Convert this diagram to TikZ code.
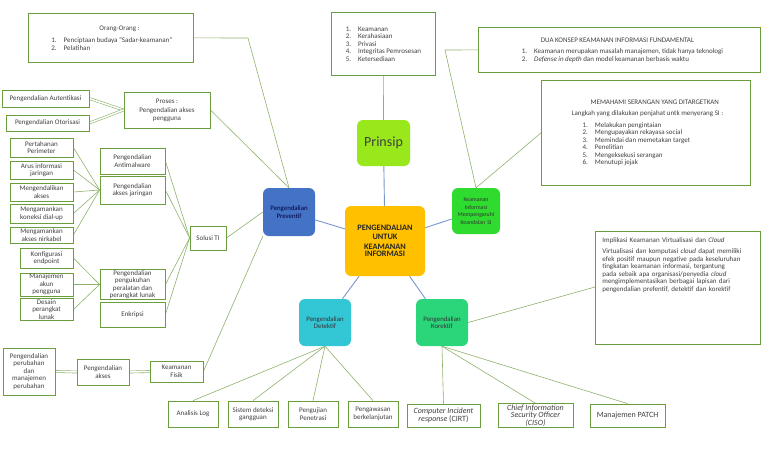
\documentclass[tikz,border=0pt]{standalone}
\usepackage{fontspec}
\setmainfont{Carlito}
\usetikzlibrary{backgrounds}
\definecolor{prevc}{HTML}{4472C4}
\definecolor{cenc}{HTML}{FFC000}
\definecolor{princ}{HTML}{99E81C}
\definecolor{kinfc}{HTML}{2EDB2E}
\definecolor{detc}{HTML}{33C6D4}
\definecolor{korc}{HTML}{2BD67B}
\definecolor{linec}{HTML}{7A96CF}
\definecolor{gline}{HTML}{8DB26A}
\definecolor{gbox}{HTML}{6A9E3C}
\begin{document}
\hyphenpenalty=10000 \exhyphenpenalty=10000 \tolerance=9999 \emergencystretch=20pt
\begin{tikzpicture}[x=1pt,y=-1pt,
 bx/.style={draw=gbox,line width=0.8pt,fill=white,align=center,inner sep=1pt,font=\fontsize{7}{7.5}\selectfont,text=black!75},
 hub/.style={rounded corners=6pt,align=center,font=\fontsize{6.8}{7.5}\selectfont,inner sep=1pt},
 gl/.style={draw=gline,line width=0.6pt},
 bl/.style={draw=linec,line width=0.9pt}]
\useasboundingbox (0,0) rectangle (768,466);
\def\B#1#2#3#4#5#6{\node[bx,minimum width={#4-#2},minimum height={#5-#3}] (#1) at ({(#2+#4)/2},{(#3+#5)/2}) {#6};}
\def\H#1#2#3#4#5#6#7{\node[hub,fill=#6,minimum width={#4-#2},minimum height={#5-#3},text width={#4-#2-4}] (#1) at ({(#2+#4)/2},{(#3+#5)/2}) {#7};}
% hubs
\H{prev}{263}{188}{315}{236}{prevc}{\color{blue!25!black}Pengendalian Preventif}
\H{cen}{345}{206}{425}{276}{cenc}{\fontsize{8.3}{9.5}\selectfont\bfseries\color{black!85}PENGENDALIAN\\UNTUK\\KEAMANAN\\INFORMASI}
\H{prin}{357}{120}{410}{166}{princ}{\fontsize{14}{15}\selectfont\color{black!75}Prinsip}
\H{kinf}{452}{188}{500}{234}{kinfc}{\fontsize{5.8}{6.3}\selectfont\color{black!80}Keamanan Informasi Mempengaruhi Keandalan SI}
\H{det}{299}{299}{351}{346}{detc}{\color{black!80}Pengendalian Detektif}
\H{kor}{416}{299}{468}{346}{korc}{\color{black!80}Pengendalian Korektif}
% boxes
\node[bx,minimum width=165,minimum height=49,align=left,anchor=north west,inner sep=4pt] (org) at (28,13) {\hspace*{50pt}Orang-Orang :\\[5pt]\hspace*{2pt}1.\quad Penciptaan budaya ``Sadar-keamanan''\\\hspace*{2pt}2.\quad Pelatihan};
\B{pros}{124}{92}{210}{128}{Proses :\\[2pt]Pengendalian akses\\pengguna}
\B{aut}{2}{90}{89}{107}{Pengendalian Autentikasi}
\B{oto}{6}{115}{89}{131}{Pengendalian Otorisasi}
\B{p1}{10}{138}{73}{157}{Pertahanan\\Perimeter}
\B{p2}{10}{161}{73}{179}{Arus informasi\\jaringan}
\B{p3}{10}{183}{73}{201}{Mengendalikan\\akses}
\B{p4}{10}{204}{73}{223}{Mengamankan\\koneksi dial-up}
\B{p5}{10}{227}{73}{243}{Mengamankan\\akses nirkabel}
\B{anti}{100}{148}{165}{174}{Pengendalian\\Antimalware}
\B{ajar}{100}{176}{165}{204}{Pengendalian\\akses jaringan}
\B{sol}{190}{226}{226}{250}{Solusi TI}
\B{k1}{20}{248}{73}{268}{Konfigurasi\\endpoint}
\B{k2}{20}{274}{73}{295}{Manajemen\\akun\\pengguna}
\B{k3}{20}{299}{73}{320}{Desain\\perangkat\\lunak}
\B{peng}{100}{272}{165}{297}{Pengendalian\\pengukuhan\\peralatan dan\\perangkat lunak}
\B{enk}{100}{302}{165}{327}{Enkripsi}
\B{fis}{150}{361}{203}{382}{Keamanan\\Fisik}
\B{aks}{77}{359}{129}{385}{Pengendalian\\akses}
\B{per}{3}{348}{55}{395}{Pengendalian\\perubahan\\dan\\manajemen\\perubahan}
\B{d1}{168}{401}{218}{427}{Analisis Log}
\B{d2}{228}{401}{278}{427}{Sistem deteksi\\gangguan}
\B{d3}{288}{401}{338}{427}{Pengujian\\Penetrasi}
\B{d4}{348}{401}{398}{427}{Pengawasan\\berkelanjutan}
\B{c1}{407}{404}{480}{427}{\fontsize{8}{8}\selectfont\itshape Computer Incident\\\fontsize{8}{8}\selectfont\itshape response \upshape(CIRT)}
\B{c2}{498}{404}{573}{427}{\fontsize{8}{7.5}\selectfont\itshape Chief Information\\\fontsize{8}{7.5}\selectfont\itshape Security Officer\\\fontsize{8}{7.5}\selectfont\itshape (CISO)}
\B{c3}{590}{404}{665}{427}{\fontsize{8}{8}\selectfont Manajemen PATCH}
\node[bx,anchor=north west,minimum width=104,minimum height=63,align=left,inner sep=5pt] (list) at (331,12) {1.\quad Keamanan\\2.\quad Kerahasiaan\\3.\quad Privasi\\4.\quad Integritas Pemrosesan\\5.\quad Ketersediaan};
\node[bx,anchor=north west,minimum width=282,minimum height=45,align=left,inner sep=3pt] (dua) at (478,27) {\hspace*{25pt}DUA KONSEP KEAMANAN INFORMASI FUNDAMENTAL\\[4pt]\hspace*{6pt}1.\quad Keamanan merupakan masalah manajemen, tidak hanya teknologi\\\hspace*{6pt}2.\quad \textit{Defense in depth} dan model keamanan berbasis waktu};
\node[bx,anchor=north west,minimum width=209,minimum height=105,align=left,inner sep=3pt] (mem) at (541,80) {\hspace*{22pt}MEMAHAMI SERANGAN YANG DITARGETKAN\\[4pt]\hspace*{3pt}Langkah yang dilakukan penjahat untk menyerang SI :\\[4pt]\hspace*{14pt}1.\quad Melakukan pengintaian\\\hspace*{14pt}2.\quad Mengupayakan rekayasa social\\\hspace*{14pt}3.\quad Memindai dan memetakan target\\\hspace*{14pt}4.\quad Penelitian\\\hspace*{14pt}5.\quad Mengeksekusi serangan\\\hspace*{14pt}6.\quad Menutupi jejak};
\node[bx,draw=none,fill=none,anchor=north west,align=left,inner sep=0pt,text width=142] (impt) at (602,237) {Implikasi Keamanan Virtualisasi dan \textit{Cloud}\\[4pt]Virtualisasi dan komputasi \textit{cloud} dapat memiliki efek positif maupun negative pada keseluruhan tingkatan keamanan informasi, tergantung pada sebaik apa organisasi/penyedia \textit{cloud} mengimplementasikan berbagai lapisan dari pengendalian prefentif, detektif dan korektif};
\coordinate (imp) at (595,287);
\begin{scope}[on background layer]
\draw[bx] (595,231) rectangle (760,344);
\draw[bl] (cen) -- (prin); \draw[bl] (cen) -- (prev); \draw[bl] (cen) -- (kinf);
\draw[bl] (cen) -- (det); \draw[bl] (cen) -- (kor);
\draw[gl] (prin.north) -- (list.south);
\draw[gl] (org.east) -- (248,38) -- (prev.north);
\draw[gl] (pros.east) -- (prev.north);
\foreach \a in {aut,oto}{\draw[gl,double,double distance=1.5pt] (\a.east) -- (pros.west);}
\foreach \a in {p1,p2,p3,p4,p5}{\draw[gl] (\a.east) -- (ajar.west);}
\foreach \a in {k1,k2,k3}{\draw[gl] (\a.east) -- (peng.west);}
\foreach \a in {anti,ajar,peng,enk}{\draw[gl] (\a.east) -- (sol.west);}
\draw[gl] (sol.east) -- (prev.west);
\draw[gl] (fis.east) -- (prev.south west);
\draw[gl,double,double distance=1.5pt] (per.east) -- (aks.west);
\draw[gl,double,double distance=1.5pt] (aks.east) -- (fis.west);
\foreach \a in {d1,d2,d3,d4}{\draw[gl] (det.south) -- (\a.north);}
\foreach \a in {c1,c2,c3}{\draw[gl] (kor.south) -- (\a.north);}
\draw[gl] (kor.east) -- (imp);
\draw[gl] (kinf.north) -- (445,50) -- (dua.west);
\draw[gl] (kinf.north) -- (mem.west);
\end{scope}
\end{tikzpicture}
\end{document}
